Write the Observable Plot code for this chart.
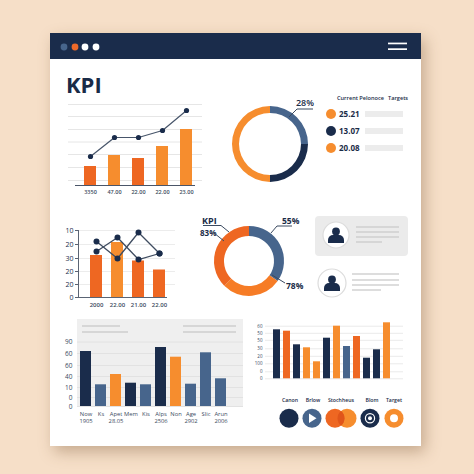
<!DOCTYPE html>
<html><head><meta charset="utf-8">
<script src="https://cdn.jsdelivr.net/npm/d3@7"></script>
<script src="https://cdn.jsdelivr.net/npm/@observablehq/plot@0.6"></script>
<style>
html,body{margin:0;padding:0;background:#f6dfc8;}
body{width:474px;height:474px;position:relative;overflow:hidden;font-family:"Open Sans","Liberation Sans",sans-serif;color:#1a2b47;}
.abs{position:absolute;}
#card{left:50px;top:33px;width:371px;height:413px;background:#fff;box-shadow:4px 6px 14px rgba(120,85,50,.38);}
#head{left:50px;top:33px;width:371px;height:26px;background:#1a2c4b;}
#title{left:66px;top:70px;font-size:22px;font-weight:700;line-height:28px;color:#1a2b47;}
.chart{position:absolute;}
.chart svg{display:block;background:transparent!important;overflow:visible;}
.t{font-family:"Open Sans","Liberation Sans",sans-serif;fill:#1a2b47;}
</style></head>
<body>
<div id="card" class="abs"></div>
<div id="head" class="abs"></div>
<div id="title" class="abs">KPI</div>
<div id="c1" class="chart"></div>
<div id="d1" class="chart"></div>
<div id="c2" class="chart"></div>
<div id="d2" class="chart"></div>
<div id="c3" class="chart"></div>
<div id="c4" class="chart"></div>
<svg id="deco" class="abs" style="left:0;top:0" width="474" height="474"></svg>
<script>
const NAVY="#1a2c4b",SLATE="#47658c",DARKO="#ee6722",LIGHTO="#f68d2e";

// top-left combo
const c1Labels=["3350","47.00","22.00","22.00","23.00"];
const c1Bars=[19,30,27,39,56];
const c1Line=[29,48,48,55,75];
const c1Colors=[DARKO,LIGHTO,DARKO,LIGHTO,LIGHTO];
const c1Grid=[5,18,31,43.5,56,69,81];

// top donut
const d1Shares=[25,25,50];
const d1Colors=[SLATE,NAVY,LIGHTO];

// middle-left combo
const c2Labels=["2000","22.00","21.00","22.00"];
const c2Bars=[42,55,36.5,27.5];
const c2Colors=[DARKO,LIGHTO,DARKO,DARKO];
const c2LineA=[56,39,65,44];
const c2LineB=[46,60,38,44];
const c2Ticks=[0,13,26,39,53,67];
const c2TickLabels=["0","20","20","30","20","10"];

// middle donut
const d2Shares=[125,100,135];
const d2Colors=[SLATE,"#f67c26",DARKO];

// bottom-left bars
const c3Labels=["Now\n1905","Ks","Apet\n28.05","Mem","Kis","Alps\n2506","Non","Age\n2902","Slic","Arun\n2006"];
const c3Bars=[55,21.7,32,23.3,21.7,59,49.3,22.3,53.7,27.7];
const c3Colors=[NAVY,SLATE,LIGHTO,NAVY,SLATE,NAVY,LIGHTO,SLATE,SLATE,SLATE];
const c3Ticks=[0,9,19,30,41,53,64.5];
const c3TickLabels=["0","0","10","40","60","60","90"];

// bottom-right bars
const c4Bars=[49,47.6,34,31,17,40.6,52.6,32.3,42.3,20.6,29,56];
const c4Colors=[NAVY,DARKO,NAVY,LIGHTO,LIGHTO,NAVY,LIGHTO,SLATE,DARKO,NAVY,NAVY,LIGHTO];
const c4Ticks=[0,7,15,22.5,30,38.5,45.5,52.6];
const c4TickLabels=["0","0","100","20","30","50","50","60"];

// legend
const legendValues=["25.21","13.07","20.08"];
const legendColors=[LIGHTO,NAVY,LIGHTO];
const legendHeaders=["Current Pelonoce","Targets"];
const iconLabels=["Canon","Brlow","Stochheus","Blom","Target"];

function place(id,left,top,node){const e=document.getElementById(id);e.style.left=left+"px";e.style.top=top+"px";e.appendChild(node);}
const idx=a=>a.map((_,i)=>i);
const axisFont={fontFamily:'"Open Sans","Liberation Sans",sans-serif'};

// chart 1
place("c1",60,95,Plot.plot({
  width:150,height:105,margin:0,marginLeft:8,marginRight:8,marginTop:0,marginBottom:15,style:{background:"transparent",...axisFont},
  x:{type:"band",domain:idx(c1Bars),range:[12,144],padding:0.5,label:null},
  y:{domain:[0,90],range:[90,0],label:null,axis:null},
  marks:[
    Plot.ruleY(c1Grid,{stroke:"#e6e6e6",strokeWidth:1}),
    Plot.barY(c1Bars,{x:(d,i)=>i,y:d=>d,fill:(d,i)=>c1Colors[i]}),
    Plot.ruleY([0],{stroke:"#4a5568",strokeWidth:1,insetLeft:7,insetRight:7}),
    Plot.line(c1Line,{x:(d,i)=>i,y:d=>d,stroke:"#47556a",strokeWidth:1.2}),
    Plot.dot(c1Line,{x:(d,i)=>i,y:d=>d,fill:NAVY,r:2.6}),
    Plot.axisX({tickSize:0,tickPadding:5,tickFormat:i=>c1Labels[i],fontSize:5.5,fontWeight:600,fill:"#3b4a60",label:null}),
  ]
}));

// donut helper: Plot function mark with d3.pie/d3.arc through the plot's x/y scales
function donut(shares,colors,outer,inner){
  const size=2*outer+4;
  return Plot.plot({
    width:size,height:size,margin:0,style:{background:"transparent"},
    x:{domain:[-1,1],range:[2,size-2],axis:null},
    y:{domain:[-1,1],range:[size-2,2],axis:null},
    marks:[(index,scales)=>{
      const pie=d3.pie().sort(null)(shares);
      const arc=d3.arc().innerRadius(inner).outerRadius(outer);
      const g=d3.create("svg:g").attr("transform",`translate(${scales.x(0)},${scales.y(0)})`);
      g.selectAll("path").data(pie).join("path").attr("d",arc).attr("fill",(d,i)=>colors[i]);
      return g.node();
    }]
  });
}
place("d1",270-40,144-40,donut(d1Shares,d1Colors,38,31));
place("d2",249-37,260.7-37,donut(d2Shares,d2Colors,35,25));

// chart 2
place("c2",55,225,Plot.plot({
  width:125,height:88,margin:0,marginLeft:23,marginRight:5,marginTop:5,marginBottom:16,style:{background:"transparent",...axisFont},
  x:{type:"band",domain:idx(c2Bars),range:[24.7,119.3],padding:0.44,label:null},
  y:{domain:[0,72],range:[72,0],label:null},
  marks:[
    Plot.ruleY(c2Ticks.slice(1),{stroke:"#ececec"}),
    Plot.barY(c2Bars,{x:(d,i)=>i,y:d=>d,fill:(d,i)=>c2Colors[i]}),
    Plot.frame({anchor:"left",stroke:"#5a6474"}),
    Plot.ruleY([0],{stroke:"#5a6474",strokeWidth:1,insetRight:8}),
    Plot.line(c2LineA,{x:(d,i)=>i,y:d=>d,stroke:"#3f4c60",strokeWidth:1.3}),
    Plot.line(c2LineB,{x:(d,i)=>i,y:d=>d,stroke:"#3f4c60",strokeWidth:1.3}),
    Plot.dot(c2LineA,{x:(d,i)=>i,y:d=>d,fill:NAVY,r:3}),
    Plot.dot(c2LineB,{x:(d,i)=>i,y:d=>d,fill:NAVY,r:3}),
    Plot.axisY({ticks:c2Ticks,tickFormat:v=>c2TickLabels[c2Ticks.indexOf(v)],tickSize:3,tickPadding:2,fontSize:7,fill:NAVY,label:null,stroke:"#5a6474"}),
    Plot.axisX({tickSize:0,tickPadding:5,tickFormat:i=>c2Labels[i],fontSize:6,fontWeight:600,fill:"#3b4a60",label:null}),
  ]
}));

// chart 3
place("c3",50,330,Plot.plot({
  width:193,height:100,margin:0,marginLeft:27,marginRight:0,marginTop:0,marginBottom:24,style:{background:"transparent",...axisFont},
  x:{type:"band",domain:idx(c3Bars),range:[23.3,182.2],padding:0.25,label:null},
  y:{domain:[0,76],range:[76,0],label:null},
  marks:[
    Plot.ruleY(c3Ticks,{stroke:"#e2e2e2"}),
    Plot.barY(c3Bars,{x:(d,i)=>i,y:d=>d,fill:(d,i)=>c3Colors[i]}),
    Plot.axisY({ticks:c3Ticks,tickFormat:v=>c3TickLabels[c3Ticks.indexOf(v)],tickSize:0,tickPadding:5,fontSize:6.5,fill:"#3b4a60",label:null}),
    Plot.axisX({tickSize:0,tickPadding:3.5,tickFormat:i=>c3Labels[i],fontSize:5.8,fill:"#3b4a60",label:null,lineHeight:1.35,lineAnchor:"top"}),
  ]
}));

// chart 4
place("c4",250,320,Plot.plot({
  width:160,height:62,margin:0,marginLeft:15,marginRight:7,marginTop:2,marginBottom:0,style:{background:"transparent",...axisFont},
  x:{type:"band",domain:idx(c4Bars),range:[15.55,147.3],padding:0.256,label:null,axis:null},
  y:{domain:[0,56],range:[58.3,2.3],label:null},
  marks:[
    Plot.ruleY(c4Ticks,{stroke:"#eaeaea"}),
    Plot.barY(c4Bars,{x:(d,i)=>i,y:d=>d,fill:(d,i)=>c4Colors[i]}),
    Plot.axisY({ticks:c4Ticks,tickFormat:v=>c4TickLabels[c4Ticks.indexOf(v)],tickSize:0,tickPadding:3,fontSize:4.5,fill:"#3b4a60",label:null}),
  ]
}));

// decoration layer
const deco=d3.select("#deco");
const rect=(x,y,w,h,fill,rx=0)=>deco.append("rect").attr("x",x).attr("y",y).attr("width",w).attr("height",h).attr("fill",fill).attr("rx",rx);
const circ=(x,y,r,fill,stroke,sw)=>deco.append("circle").attr("cx",x).attr("cy",y).attr("r",r).attr("fill",fill).attr("stroke",stroke||"none").attr("stroke-width",sw||0);
const line=(pts,stroke="#3b4a60",sw=1)=>deco.append("polyline").attr("points",pts.map(p=>p.join(",")).join(" ")).attr("fill","none").attr("stroke",stroke).attr("stroke-width",sw);
const text=(x,y,s,size,weight=400,fill="#1a2b47",anchor="start")=>deco.append("text").attr("class","t").attr("x",x).attr("y",y).attr("font-size",size).attr("font-weight",weight).attr("fill",fill).attr("text-anchor",anchor).text(s);

// header
[[64,"#47658c"],[75,"#ee6a2a"],[85,"#fff"],[96,"#fff"]].forEach(([x,f])=>circ(x,47,3.4,f));
rect(388,42.6,19,1.7,"#fff");rect(388,48.3,19,1.7,"#fff");

// panel background beneath chart 3
const bg=d3.select("body").insert("svg","#c1").attr("class","abs").attr("style","left:0;top:0").attr("width",474).attr("height",474);
bg.append("rect").attr("x",77).attr("y",319).attr("width",166).attr("height",87).attr("fill","#efefef");
[[82,326,38],[82,332,46],[183,326,53],[183,332,53]].forEach(([x,y,w])=>bg.append("rect").attr("x",x).attr("y",y-1).attr("width",w).attr("height",2).attr("fill","#d6d6d6"));

// donut 1 annotation
text(305,106,"28%",9,600,"#1a2b47","middle");
line([[313,109],[297,109],[289,117]],"#3b4a60",1);

// legend
text(337,100,legendHeaders[0],5.6,600,"#3b4a60");
text(388,100,legendHeaders[1],5.6,600,"#3b4a60");
legendValues.forEach((v,i)=>{const y=114+i*17;
  circ(331,y,5,legendColors[i]);
  text(339,y+3,v,8,700);
  rect(365,y-3,38,6,"#ececec");
});

// donut 2 annotation
text(202,224,"KPI",9,700);
line([[203,225.5],[221,225.5],[229,232]],"#3b4a60",1);
text(200,236,"83%",8,700);
line([[214,233],[224,241]],"#3b4a60",1);
text(282,224,"55%",8.5,700);
line([[292,226],[277,226],[271,233]],"#3b4a60",1);
text(286,289,"78%",8.5,700);
line([[272,275],[285,283]],"#3b4a60",1);

// people cards
const person=(cx,cy,r)=>{
  circ(cx,cy,r,"#fff","#dcdcdc",1.2);
  circ(cx,cy-3.6,3.9,NAVY);
  deco.append("path").attr("d",`M${cx-8},${cy+8} v-3 a5,5 0 0 1 5,-5 h6 a5,5 0 0 1 5,5 v3 z`).attr("fill",NAVY);
};
rect(315,216,93,40,"#ebebeb",4);
person(336,235,13);
[[356,227,43],[356,232,43],[356,237,43],[356,242,26]].forEach(([x,y,w])=>rect(x,y-0.75,w,1.5,"#cfcfcf"));
person(332,283,14);
[[352,274,47],[352,280,47],[352,285,47],[352,290,29]].forEach(([x,y,w])=>rect(x,y-0.75,w,1.5,"#d2d2d2"));

// icon row
[290,313,341,372,394].forEach((x,i)=>text(x,402,iconLabels[i],5.2,600,"#3b4a60","middle"));
circ(289,418.3,9.5,NAVY);
circ(312,418.3,9.5,SLATE);
deco.append("path").attr("d","M309,413.5 L316.5,418.3 L309,423 Z").attr("fill","#fff");
circ(347,418.3,9.5,LIGHTO);
circ(335,418.3,9.5,DARKO);
deco.append("path").attr("d","M341,411 A9.5,9.5 0 0 1 341,425.7 A9.5,9.5 0 0 1 341,411 Z").attr("fill","#e0551a");
circ(370,418.3,9.5,NAVY);
circ(370,418.3,4.6,"none","#fff",1.2);
circ(370,418.3,2,"#fff");
circ(394,418.3,9.5,LIGHTO);
circ(394,418.3,4,"#fff");
</script>
</body></html>
